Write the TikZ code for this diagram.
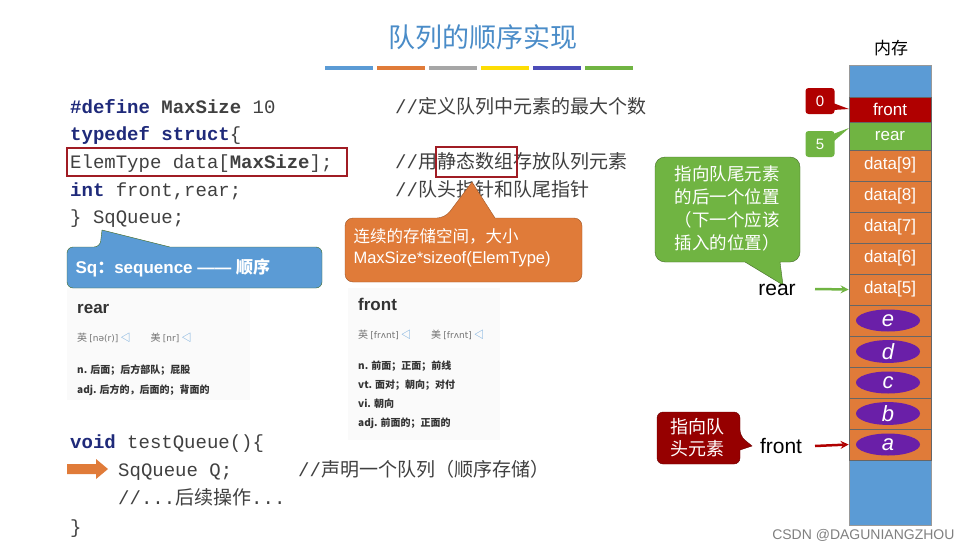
\documentclass[tikz,border=0pt]{standalone}
\usepackage{fontspec}
\setmainfont{Liberation Sans}
\setmonofont{Liberation Mono}
\newfontfamily\cjk{Noto Sans CJK SC}
\newfontfamily\ipa{DejaVu Sans}
\usetikzlibrary{positioning,shapes.geometric}
\definecolor{codegray}{HTML}{404040}
\definecolor{kwblue}{HTML}{1F2A7A}
\definecolor{boxred}{HTML}{A01C24}
\definecolor{cellred}{HTML}{B00000}
\definecolor{cellgreen}{HTML}{70B442}
\definecolor{cellorange}{HTML}{E07B39}
\definecolor{memblue}{HTML}{5B9BD5}
\definecolor{elpurple}{HTML}{6A1FA8}
\definecolor{titleblue}{HTML}{4A8CC8}
\definecolor{tipblue}{HTML}{5B9BD5}
\newcommand{\kw}[1]{\textbf{\textcolor{kwblue}{#1}}}
\newcommand{\zh}[1]{{\cjk #1}}
\tikzset{
  code/.style={anchor=base west,font=\fontsize{19}{22}\selectfont\ttfamily,text=codegray,inner sep=0pt},
  dict/.style={anchor=base west,font=\fontsize{10}{12}\selectfont\bfseries\cjk,text=black!80,inner sep=0pt},
  cell/.style={draw=black!60,line width=0.8pt,minimum width=82pt,minimum height=31pt,inner sep=0pt,
    font=\fontsize{17}{19}\selectfont,text=white},
  elem/.style={ellipse,fill=elpurple,minimum width=64pt,minimum height=22pt,inner sep=0pt,
    font=\fontsize{22}{22}\selectfont\itshape,text=white},
  ptr/.style={font=\fontsize{21}{22}\selectfont,text=black,inner sep=0pt}
}
\begin{document}
\begin{tikzpicture}[x=1pt,y=-1pt]
    \useasboundingbox[fill=white] (0,0) rectangle (974,551);
    % title
    \node[font=\fontsize{27}{29}\selectfont\cjk,text=titleblue] (title) at (483,37) {队列的顺序实现};
    \foreach \c [count=\i] in {memblue,cellorange,black!35,yellow!80!orange,blue!60!black!70,cellgreen}
      \fill[\c] (325+\i*52-52,66) rectangle ++(48,4);
    % code
    \node[code] (l1) at (70,113) {\kw{\#define} \textbf{MaxSize} 10};
    \node[code] (l2) at (70,140) {\kw{typedef struct}\{};
    \node[code] (l3) at (70,168) {ElemType data[\textbf{MaxSize}];};
    \node[code] (l4) at (70,196) {\kw{int} front,rear;};
    \node[code] (l5) at (70,223) {\} SqQueue;};
    \node[code] (c1) at (395,113) {//\zh{定义队列中元素的最大个数}};
    \node[code] (c3) at (395,168) {//\zh{用静态数组存放队列元素}};
    \node[code] (c4) at (395,196) {//\zh{队头指针和队尾指针}};
    \draw[boxred,line width=1.5pt] (67,148) rectangle (347,176);
    \draw[boxred,line width=1.5pt] (436,147) rectangle (517,177);
    % orange callout
    \draw[fill=cellorange,draw=cellorange!70!black,rounded corners=8pt]
      (345,218) -- (445,218) [sharp corners]-- (472,182) -- (495,218) [rounded corners=8pt]-- (582,218)
      -- (582,282) -- (345,282) -- cycle;
    \node[font=\fontsize{16.5}{21}\selectfont\cjk,text=white,align=left,anchor=north west] (otip) at (350,225)
      {连续的存储空间，大小\\{\fontspec{Liberation Sans}MaxSize*sizeof(ElemType)}};
    % dictionary cards
    \fill[black!2] (67,288) rectangle (250,400);
    \fill[black!2] (348,288) rectangle (500,440);
    \node[dict,font=\fontsize{17}{19}\selectfont\bfseries] (rw) at (77,313) {rear};
    \node[dict,font=\fontsize{10}{12}\selectfont\cjk,text=black!55] (rp) at (77,341) {英 {\ipa\fontsize{9}{12}\selectfont[nə(r)]} \textcolor{tipblue}{◁}\quad\quad 美 {\ipa\fontsize{9}{12}\selectfont[nr]} \textcolor{tipblue}{◁}};
    \node[dict] (r1) at (77,373) {n. 后面；后方部队；屁股};
    \node[dict] (r2) at (77,393) {adj. 后方的，后面的；背面的};
    \node[dict,font=\fontsize{17}{19}\selectfont\bfseries] (fw) at (358,310) {front};
    \node[dict,font=\fontsize{10}{12}\selectfont\cjk,text=black!55] (fp) at (358,338) {英 {\ipa\fontsize{9}{12}\selectfont[frʌnt]} \textcolor{tipblue}{◁}\quad\quad 美 {\ipa\fontsize{9}{12}\selectfont[frʌnt]} \textcolor{tipblue}{◁}};
    \node[dict] (f1) at (358,369) {n. 前面；正面；前线};
    \node[dict] (f2) at (358,388) {vt. 面对；朝向；对付};
    \node[dict] (f3) at (358,407) {vi. 朝向};
    \node[dict] (f4) at (358,426) {adj. 前面的；正面的};
    % blue callout
    \draw[fill=tipblue,draw=cellgreen!60!black,rounded corners=6pt]
      (67,247) -- (100,247) [sharp corners]-- (102,230) -- (170,247) [rounded corners=6pt]-- (322,247)
      -- (322,288) -- (67,288) -- cycle;
    \node[font=\fontsize{17}{18}\selectfont\bfseries,text=white,anchor=west] (btip) at (72,268) {Sq\zh{：}sequence —— \zh{顺序}};
    % second code block
    \node[code] (m1) at (70,448) {\kw{void} testQueue()\{};
    \node[code] (m2) at (118,476) {SqQueue Q;};
    \node[code] (m3) at (298,476) {//\zh{声明一个队列（顺序存储）}};
    \node[code] (m4) at (118,504) {//...\zh{后续操作}...};
    \node[code] (m5) at (70,533) {\}};
    \fill[cellorange] (67,464) -- (96,464) -- (96,459) -- (108,469) -- (96,479) -- (96,474) -- (67,474) -- cycle;
    % memory
    \node[font=\fontsize{17}{19}\selectfont\cjk] (mem) at (891,48) {内存};
    \fill[memblue,draw=black!40] (849,65) rectangle (931,525);
    \node[cell,fill=cellred,minimum height=25pt] (front) at (890,109.5) {front};
    \node[cell,fill=cellgreen,minimum height=28pt] (rear) at (890,136) {rear};
    \foreach \k [count=\i] in {9,8,7,6,5}
      \node[cell,fill=cellorange] (d\k) at (890,134.5+\i*31) {data[\k]};
    \foreach \e [count=\i] in {e,d,c,b,a}{
      \node[cell,fill=cellorange] (s\e) at (890,289.5+\i*31) {};
      \node[elem] (\e) at (888,289.5+\i*31) {\e};
    }
    % pointer boxes
    \node[fill=cellred,rounded corners=3pt,minimum width=29pt,minimum height=26pt,text=white,
      font=\fontsize{15}{17}\selectfont] (zero) at (820,101) {0};
    \fill[cellred] (833,103) -- (849,109) -- (833,110) -- cycle;
    \node[fill=cellgreen,rounded corners=3pt,minimum width=29pt,minimum height=26pt,text=white,
      font=\fontsize{15}{17}\selectfont] (five) at (820,144) {5};
    \fill[cellgreen] (833,134) -- (849,128) -- (833,142) -- cycle;
    % rear pointer
    \draw[fill=cellgreen,draw=cellgreen!60!black,rounded corners=10pt]
      (655,157) -- (800,157) -- (800,262) [sharp corners]-- (780,262) -- (783,285) -- (745,262)
      [rounded corners=10pt]-- (655,262) -- cycle;
    \node[font=\fontsize{17.5}{23}\selectfont\cjk,text=white,align=center] (gtip) at (727,208)
      {指向队尾元素\\的后一个位置\\（下一个应该\\插入的位置）};
    \node[ptr] (rp) at (777,290) {rear};
    \draw[->,>=stealth,cellgreen,line width=2.5pt] (815,289) -- (d5.west);
    % front pointer
    \draw[fill=cellred!85!black,draw=cellred!60!black,rounded corners=6pt]
      (657,412) -- (740,412) -- (740,436) [sharp corners]-- (752,446) -- (740,450)
      [rounded corners=6pt]-- (740,464) -- (657,464) -- cycle;
    \node[font=\fontsize{18}{22}\selectfont\cjk,text=white,align=left] (rtip) at (697,438)
      {指向队\\头元素};
    \node[ptr] (fp) at (781,446) {front};
    \draw[->,>=stealth,cellred,line width=2.5pt] (815,446) -- (sa.west);
    % watermark
    \node[font=\fontsize{14}{16}\selectfont,text=black!50,anchor=east] (wm) at (958,535) {CSDN @DAGUNIANGZHOU};
\end{tikzpicture}
\end{document}
